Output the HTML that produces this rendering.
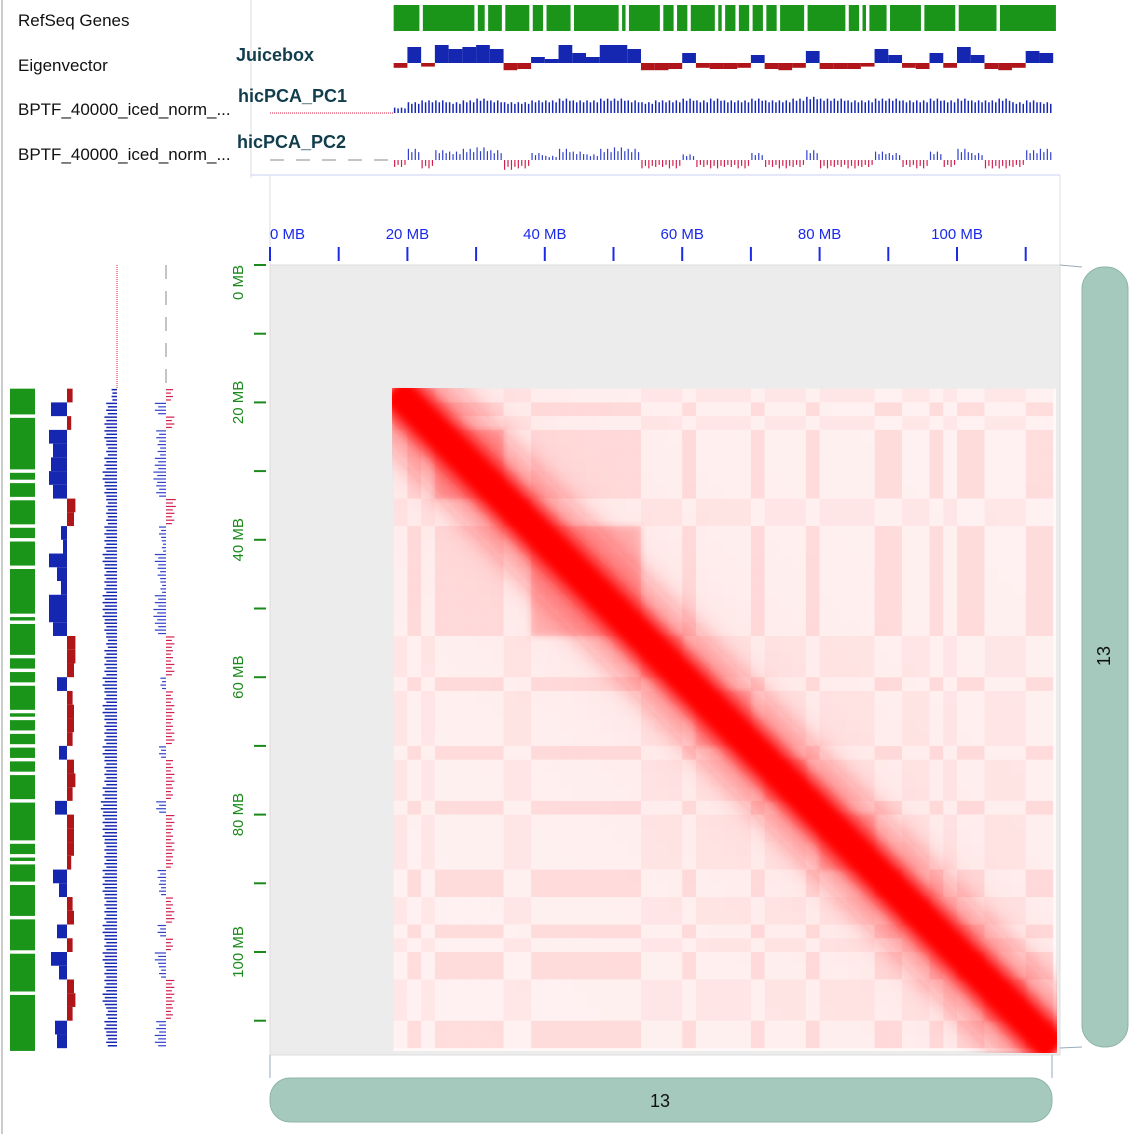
<!DOCTYPE html>
<html><head><meta charset="utf-8"><style>
body{margin:0;background:#fff;width:1136px;height:1134px;overflow:hidden;font-family:"Liberation Sans",sans-serif}
svg{position:absolute;left:0;top:0}
</style></head><body>
<svg id="s" width="1136" height="1134" xmlns="http://www.w3.org/2000/svg">
<defs><filter id="bl" x="-5%" y="-5%" width="110%" height="110%"><feGaussianBlur stdDeviation="4"/></filter>
<filter id="bl2" x="-10%" y="-10%" width="120%" height="120%"><feGaussianBlur stdDeviation="12"/></filter>
<clipPath id="hc"><rect x="392" y="388" width="665" height="665"/></clipPath></defs>
<line x1="2" y1="0" x2="2" y2="1134" stroke="#ccc" stroke-width="2"/>
<line x1="251" y1="0" x2="251" y2="178" stroke="#ddd"/>
<line x1="251" y1="175" x2="1060" y2="175" stroke="#c8d0f0"/>
<line x1="1060" y1="175" x2="1060" y2="265" stroke="#ddd"/>
<line x1="270" y1="175" x2="270" y2="265" stroke="#ddd"/>
<g font-size="17" fill="#111">
<text x="18" y="26">RefSeq Genes</text>
<text x="18" y="71">Eigenvector</text>
<text x="18" y="115">BPTF_40000_iced_norm_...</text>
<text x="18" y="160">BPTF_40000_iced_norm_...</text>
</g>
<g font-size="18" font-weight="bold" fill="#123d4c">
<text x="236" y="61">Juicebox</text>
<text x="238" y="102">hicPCA_PC1</text>
<text x="237" y="148">hicPCA_PC2</text>
</g>
<g id="heat"></g>
<g id="tracks"></g>
<g id="ruler"></g>
<rect x="1082" y="267" width="46" height="780" rx="22" fill="#a5c9bd" stroke="#8fb5a8"/>
<text x="1110" y="656" font-size="18" transform="rotate(-90 1110 656)" text-anchor="middle" fill="#111">13</text>
<line x1="1060" y1="265" x2="1082" y2="267" stroke="#9ab"/>
<line x1="1060" y1="1048" x2="1082" y2="1047" stroke="#9ab"/>
<rect x="270" y="1078" width="782" height="44" rx="20" fill="#a5c9bd" stroke="#8fb5a8"/>
<text x="660" y="1107" font-size="18" text-anchor="middle" fill="#111">13</text>
<line x1="270" y1="1055" x2="270" y2="1078" stroke="#9ab"/>
<line x1="1052" y1="1055" x2="1052" y2="1078" stroke="#9ab"/>
</svg>
<script>
// 2MB bins starting at 18 MB
const binStart = 18;
const binSize = 2;
const eigen = [-0.4,0.8,-0.3,0.9,0.7,0.8,0.9,0.7,-0.6,-0.5,0.3,0.2,0.9,0.5,0.3,0.9,0.9,0.7,-0.6,-0.6,-0.5,0.5,-0.4,-0.5,-0.5,-0.4,0.4,-0.5,-0.6,-0.4,0.6,-0.5,-0.5,-0.5,-0.3,0.7,0.4,-0.4,-0.5,0.5,-0.4,0.8,0.4,-0.5,-0.6,-0.4,0.6,0.5];
const pc1 = [0.3,0.6,0.7,0.7,0.6,0.7,0.8,0.7,0.6,0.6,0.7,0.7,0.8,0.7,0.7,0.8,0.8,0.7,0.6,0.7,0.7,0.8,0.7,0.8,0.7,0.7,0.8,0.7,0.7,0.8,0.9,0.8,0.8,0.7,0.7,0.8,0.8,0.7,0.7,0.8,0.7,0.8,0.7,0.7,0.8,0.6,0.7,0.6];
const pc2 = [-0.5,0.8,-0.6,0.7,0.6,0.8,0.9,0.7,-0.7,-0.6,0.5,0.3,0.8,0.6,0.4,0.8,0.9,0.8,-0.6,-0.5,-0.6,0.4,-0.5,-0.6,-0.5,-0.6,0.5,-0.5,-0.6,-0.5,0.7,-0.6,-0.5,-0.6,-0.5,0.6,0.5,-0.5,-0.6,0.6,-0.5,0.8,0.5,-0.6,-0.6,-0.5,0.7,0.8];
const geneGaps = [22,30,31.5,34,38,40,44,51,52,57,59,61,65,66,68,70,72,74,78,84,86,87,90,95,100,106];
const xTicks = [0,20,40,60,80,100];
const xTickLabels = ["0 MB","20 MB","40 MB","60 MB","80 MB","100 MB"];
const chromEnd = 114.4;

const NS = 'http://www.w3.org/2000/svg';
const PX = 6.87;
const X = mb => 270 + mb*PX;
const Y = mb => 265 + mb*PX;
function mk(tag, attrs, parent){const e=document.createElementNS(NS,tag);for(const k in attrs)e.setAttribute(k,attrs[k]);parent.appendChild(e);return e;}
const heat = document.getElementById('heat');
const tracks = document.getElementById('tracks');
const ruler = document.getElementById('ruler');
const bw = i => (Math.min(binStart+(i+1)*binSize, chromEnd) - (binStart+i*binSize))*PX;

let r = mk('rect',{x:270,y:265,width:790,height:790,fill:'#ececec',stroke:'#ddd'},heat);


const n = eigen.length;
const x0 = X(binStart);
r = mk('rect',{x:x0,y:Y(binStart),width:X(chromEnd)-x0,height:Y(chromEnd)-Y(binStart),fill:'#fff8f8'},heat);


for(let i=0;i<n;i++){for(let j=0;j<n;j++){
  const d=Math.abs(i-j);
  const same = Math.sign(eigen[i])===Math.sign(eigen[j]);
  let a = (same?0.06:0.02) + 0.3/(1+d*1.0);
  if(same && eigen[i]>0) a+=0.04;
  a=Math.min(a,0.9);
  const c = mk('rect',{x:X(binStart+i*binSize),y:Y(binStart+j*binSize),width:bw(i),height:bw(j),fill:'#ff0000','fill-opacity':a.toFixed(3)},heat);
  
  
}}
let runStart=0;
for(let i=1;i<=n;i++){
  if(i===n || Math.sign(eigen[i])!==Math.sign(eigen[runStart])){
    const a=binStart+runStart*binSize, b=Math.min(binStart+i*binSize,chromEnd);
    const t = mk('rect',{x:X(a),y:Y(a),width:(b-a)*PX,height:(b-a)*PX,fill:'#ff0000','fill-opacity':0.18,filter:'url(#bl)'},heat);
    
    
    runStart=i;
  }
}
const dg = mk('g',{'clip-path':'url(#hc)'},heat);


const halo = mk('line',{x1:X(binStart),y1:Y(binStart),x2:X(chromEnd),y2:Y(chromEnd),stroke:'#ff2020','stroke-width':90,'stroke-opacity':0.35,filter:'url(#bl2)'},dg);


const diag = mk('line',{x1:X(binStart),y1:Y(binStart),x2:X(chromEnd),y2:Y(chromEnd),stroke:'#ff2020','stroke-width':50,'stroke-opacity':0.6,filter:'url(#bl)'},dg);


const diag2 = mk('line',{x1:X(binStart),y1:Y(binStart),x2:X(chromEnd),y2:Y(chromEnd),stroke:'#ff0000','stroke-width':32,filter:'url(#bl)'},dg);



xTicks.forEach((t,i)=>{
  const l=mk('text',{x:X(t),y:239,'font-size':15,fill:'#1a2ae8','text-anchor':i===0?'start':'middle'},ruler);
  l.textContent=xTickLabels[i];
  
  
});
for(let m=0;m<=110;m+=10){
  const tk=mk('line',{x1:X(m),y1:247,x2:X(m),y2:261,stroke:'#1a2ae8','stroke-width':2},ruler);
  
  
  const tl=mk('line',{x1:254,y1:Y(m),x2:266,y2:Y(m),stroke:'#1a8a1a','stroke-width':2},ruler);
  
  
}
xTicks.forEach((t,i)=>{
  const yy=Y(t);
  const l=mk('text',{x:243,y:yy,'font-size':15,fill:'#1a8a1a','text-anchor':i===0?'end':'middle',transform:`rotate(-90 243 ${yy})`},ruler);
  l.textContent=xTickLabels[i];
  
  
});

function geneRuns(){const runs=[];let s=binStart;geneGaps.forEach(g=>{runs.push([s,g-0.25]);s=g+0.25;});runs.push([s,chromEnd]);return runs;}
geneRuns().forEach(([a,b])=>{
  let g=mk('rect',{x:X(a),y:5,width:(b-a)*PX,height:26,fill:'#1a951a'},tracks);
  
  
  g=mk('rect',{x:10,y:Y(a),width:25,height:(b-a)*PX,fill:'#1a951a'},tracks);
  
  
});
const eH=20;
eigen.forEach((v,i)=>{
  const a=binStart+i*binSize, col=v>0?'#1526b0':'#b0151a';
  const h=Math.abs(v)*eH*(v>0?1:0.6);
  let b=mk('rect',{x:X(a),y:v>0?63-h:63,width:bw(i),height:h,fill:col},tracks);
  
  
  const w=Math.abs(v)*eH*(v>0?1:0.7);
  b=mk('rect',{x:v>0?67-w:67,y:Y(a),width:w,height:bw(i),fill:col},tracks);
  
  
});
let dl=mk('line',{x1:270,y1:113,x2:X(binStart),y2:113,stroke:'#d02040','stroke-dasharray':'1,1'},tracks);


dl=mk('line',{x1:117,y1:265,x2:117,y2:Y(binStart),stroke:'#d02040','stroke-dasharray':'1,1'},tracks);


pc1.forEach((v,i)=>{
  for(let k=0;k<4;k++){
    const a=binStart+i*binSize+k*0.5, h=v*18*(k%2?0.85:1);
    if(a>chromEnd) continue;
    let l=mk('line',{x1:X(a)+1,y1:113,x2:X(a)+1,y2:113-h,stroke:'#1526b0','stroke-width':1.5},tracks);
    
    
    l=mk('line',{x1:117,y1:Y(a)+1,x2:117-h,y2:Y(a)+1,stroke:'#1526b0','stroke-width':1.5},tracks);
    
    
  }
});
dl=mk('line',{x1:270,y1:160,x2:X(binStart),y2:160,stroke:'#888','stroke-dasharray':'14,12'},tracks);


dl=mk('line',{x1:166,y1:265,x2:166,y2:Y(binStart),stroke:'#888','stroke-dasharray':'14,12'},tracks);


pc2.forEach((v,i)=>{
  for(let k=0;k<4;k++){
    const a=binStart+i*binSize+k*0.5, col=v>0?'#3040c8':'#d02050';
    if(a>chromEnd) continue;
    const h=Math.abs(v)*14*(k%2?0.7:1);
    let l=mk('line',{x1:X(a)+1,y1:160,x2:X(a)+1,y2:v>0?160-h:160+h,stroke:col,'stroke-width':1.2},tracks);
    
    
    l=mk('line',{x1:166,y1:Y(a)+1,x2:v>0?166-h:166+h,y2:Y(a)+1,stroke:col,'stroke-width':1.2},tracks);
    
    
  }
});
</script>
</body></html>
